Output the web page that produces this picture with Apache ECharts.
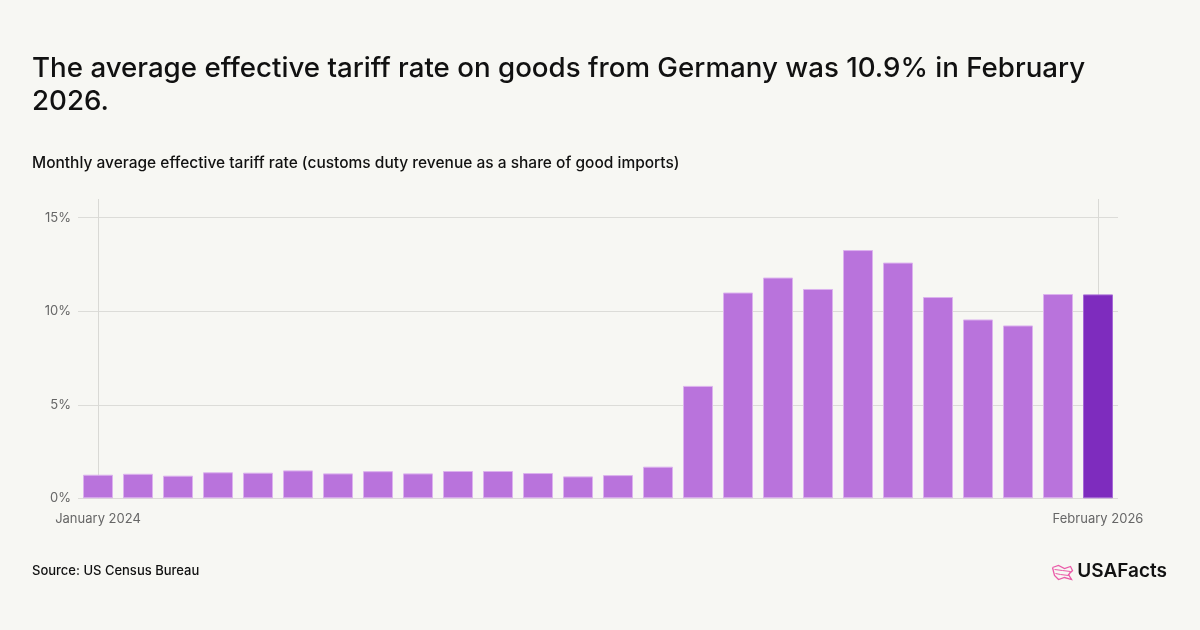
<!DOCTYPE html>
<html>
<head>
<meta charset="utf-8">
<script src="https://cdn.jsdelivr.net/npm/echarts@6/dist/echarts.min.js"></script>
<style>
  html, body { margin: 0; padding: 0; background: #f7f7f3; }
  #chart { width: 1200px; height: 630px; }
</style>
</head>
<body>
<div id="chart"></div>
<script>
// months, Jan 2024 .. Feb 2026
const months = [
  "January 2024", "February 2024", "March 2024", "April 2024", "May 2024", "June 2024",
  "July 2024", "August 2024", "September 2024", "October 2024", "November 2024", "December 2024",
  "January 2025", "February 2025", "March 2025", "April 2025", "May 2025", "June 2025",
  "July 2025", "August 2025", "September 2025", "October 2025", "November 2025", "December 2025",
  "January 2026", "February 2026"
];
// effective tariff rate, %
const tariffRate = [
  1.26, 1.31, 1.21, 1.39, 1.37, 1.49, 1.33, 1.45, 1.33, 1.46, 1.46, 1.35,
  1.17, 1.24, 1.69, 6.01, 11.0, 11.8, 11.19, 13.27, 12.6, 10.76, 9.56, 9.24,
  10.92, 10.9
];
const yTicks = [0, 5, 10, 15];

const chart = echarts.init(document.getElementById("chart"));
const last = months.length - 1;
const FONT = "Inter, 'Noto Sans', sans-serif";

const option = {
  backgroundColor: "#f7f7f3",
  textStyle: { fontFamily: FONT },
  title: [
    {
      text: "The average effective tariff rate on goods from Germany was 10.9% in February\n2026.",
      left: 32, top: 52, padding: 0,
      textStyle: { fontFamily: FONT, fontSize: 27.7, fontWeight: 500, color: "#111", lineHeight: 33 }
    },
    {
      text: "Monthly average effective tariff rate (customs duty revenue as a share of good imports)",
      left: 32, top: 155, padding: 0,
      textStyle: { fontFamily: FONT, fontSize: 15.5, fontWeight: 500, color: "#111" }
    },
    {
      text: "Source: US Census Bureau",
      left: 32, top: 565, padding: 0,
      textStyle: { fontFamily: FONT, fontSize: 13, fontWeight: 500, color: "#111" }
    },
    {
      text: "USAFacts",
      right: 33, top: 562, padding: 0,
      textStyle: { fontFamily: FONT, fontSize: 19, fontWeight: 600, color: "#111" }
    }
  ],
  graphic: [
    {
      type: "polyline",
      left: 1050, top: 563,
      shape: { points: [[0, 2], [6, 0], [12, 3], [18, 1], [20, 5], [16, 9], [19, 14], [12, 12], [6, 14], [2, 10], [0, 2]] },
      style: { fill: null, stroke: "#ea5aa8", lineWidth: 1.3 }
    },
    {
      type: "polyline",
      left: 1052, top: 567,
      shape: { points: [[0, 1], [8, 2], [16, 3], [14, 7], [6, 6], [1, 5]] },
      style: { fill: null, stroke: "#ea5aa8", lineWidth: 1 }
    }
  ],
  grid: { left: 78, right: 82, top: 199, bottom: 131.7 },
  xAxis: {
    type: "category",
    data: months,
    axisLine: { show: false },
    axisTick: { show: false },
    axisLabel: {
      interval: (i) => i === 0 || i === last,
      margin: 14,
      color: "#666",
      fontSize: 13,
      fontFamily: FONT
    }
  },
  yAxis: {
    type: "value",
    min: 0, max: 16, interval: 5,
    axisLine: { show: false },
    axisTick: { show: false },
    axisLabel: {
      formatter: (v) => yTicks.includes(v) ? v + "%" : "",
      showMaxLabel: false,
      color: "#666",
      fontSize: 13,
      margin: 7,
      fontFamily: FONT
    },
    splitLine: { showMaxLine: false, lineStyle: { color: "#dcdcd8", width: 1 } }
  },
  series: [
    {
      type: "bar",
      data: tariffRate.map((v, i) => ({
        value: v,
        itemStyle: i === last ? { color: "#7e2cbe", borderColor: "#a76ad6" } : {}
      })),
      barWidth: 30,
      itemStyle: { color: "#b973dc", borderColor: "#dcb2ee", borderWidth: 1 },
      silent: true,
      markLine: {
        silent: true,
        symbol: "none",
        label: { show: false },
        lineStyle: { color: "#d9d9d5", type: "solid", width: 1 },
        data: [{ xAxis: months[0] }, { xAxis: months[last] }],
        z: 0
      },
      z: 2
    }
  ],
  animation: false
};
chart.setOption(option);
</script>
</body>
</html>
